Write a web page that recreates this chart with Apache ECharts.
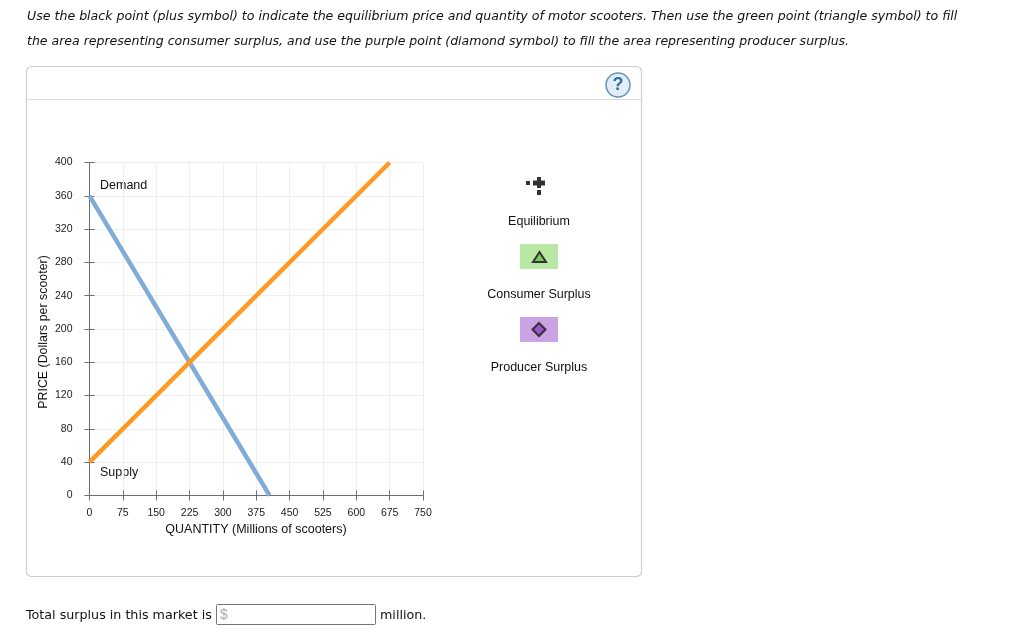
<!DOCTYPE html>
<html>
<head>
<meta charset="utf-8">
<style>
  html, body { margin: 0; padding: 0; background: #fff; }
  #chart { width: 1024px; height: 632px; }
</style>
<script src="https://cdn.jsdelivr.net/npm/echarts@6/dist/echarts.min.js"></script>
</head>
<body>
<div id="chart"></div>
<script>
// values
const quantityTicks = [0, 75, 150, 225, 300, 375, 450, 525, 600, 675, 750];
const priceTicks = [0, 40, 80, 120, 160, 200, 240, 280, 320, 360, 400];
const demandPoints = [[0, 360], [405, 0]];
const supplyPoints = [[0, 40], [675, 400]];

const instructions = [
  'Use the black point (plus symbol) to indicate the equilibrium price and quantity of motor scooters. Then use the green point (triangle symbol) to fill',
  'the area representing consumer surplus, and use the purple point (diamond symbol) to fill the area representing producer surplus.'
];

const chartFont = '"Liberation Sans", Arial, sans-serif';
const pageFont = '"DejaVu Sans", Verdana, sans-serif';
const axisGray = '#6e6e6e';

function label(x, y, text, size, extra) {
  return {
    type: 'text', x: x, y: y, silent: true,
    style: Object.assign({ text: text, fontFamily: chartFont, fontSize: size, fill: '#111', textVerticalAlign: 'middle' }, extra)
  };
}

function poly(points, fill) {
  return {
    type: 'polygon',
    shape: { points: points },
    style: { fill: fill, stroke: '#333', lineWidth: 2 }
  };
}

const chart = echarts.init(document.getElementById('chart'));

chart.setOption({
  animation: false,
  grid: { left: 89.5, top: 162.5, width: 333.5, height: 333 },
  xAxis: [
    {
      type: 'value', min: quantityTicks[0], max: quantityTicks[quantityTicks.length - 1], interval: 75,
      axisLine: { onZero: false, lineStyle: { color: axisGray, width: 1 } },
      axisTick: { show: true, length: 5, lineStyle: { color: axisGray } },
      axisLabel: { show: true, showMaxLabel: true, showMinLabel: true, margin: 12, fontSize: 10.5, fontFamily: chartFont, color: '#222' },
      splitLine: { show: true, lineStyle: { color: '#eeeeee', width: 1 } }
    },
    {
      // second axis only to carry the inner half of the ticks
      type: 'value', min: quantityTicks[0], max: quantityTicks[quantityTicks.length - 1], interval: 75, position: 'bottom',
      axisLine: { show: false },
      axisTick: { show: true, inside: true, length: 5, lineStyle: { color: axisGray } },
      axisLabel: { show: false },
      splitLine: { show: false }
    }
  ],
  yAxis: [
    {
      type: 'value', min: priceTicks[0], max: priceTicks[priceTicks.length - 1], interval: 40,
      axisLine: { show: true, onZero: false, lineStyle: { color: axisGray, width: 1 } },
      axisTick: { show: true, length: 5, lineStyle: { color: axisGray } },
      axisLabel: { show: true, showMaxLabel: true, showMinLabel: true, margin: 17, fontSize: 10.5, fontFamily: chartFont, color: '#222', padding: [4, 0, 0, 0] },
      splitLine: { show: true, lineStyle: { color: '#eeeeee', width: 1 } }
    },
    {
      type: 'value', min: priceTicks[0], max: priceTicks[priceTicks.length - 1], interval: 40, position: 'left',
      axisLine: { show: false },
      axisTick: { show: true, inside: true, length: 5, lineStyle: { color: axisGray } },
      axisLabel: { show: false },
      splitLine: { show: false }
    }
  ],
  series: [
    {
      name: 'Demand', type: 'line', data: demandPoints, showSymbol: false, silent: true,
      lineStyle: { color: '#80acd8', width: 4.5, cap: 'butt' }, clip: true, z: 3
    },
    {
      name: 'Supply', type: 'line', data: supplyPoints, showSymbol: false, silent: true,
      lineStyle: { color: '#fb9a24', width: 4.5, cap: 'butt' }, clip: true, z: 4
    }
  ],
  graphic: { elements: [
    // instructions
    { type: 'text', x: 27, y: 17, silent: true, style: { text: instructions[0], fontFamily: pageFont, fontStyle: 'italic', fontSize: 12.58, fill: '#111', textVerticalAlign: 'middle' } },
    { type: 'text', x: 27, y: 42, silent: true, style: { text: instructions[1], fontFamily: pageFont, fontStyle: 'italic', fontSize: 12.53, fill: '#111', textVerticalAlign: 'middle' } },

    // panel
    { type: 'rect', z: -10, shape: { x: 26.5, y: 66.5, width: 615, height: 510, r: 5 }, style: { fill: '#fff', stroke: '#cfcfcf', lineWidth: 1.2 } },
    { type: 'line', z: -9, shape: { x1: 27, y1: 99.5, x2: 641, y2: 99.5 }, style: { stroke: '#dcdcdc', lineWidth: 1 } },

    // help icon
    { type: 'circle', shape: { cx: 618, cy: 85, r: 12 }, style: { fill: '#e3edf6', stroke: '#5f93bb', lineWidth: 1.5 } },
    label(618, 85.5, '?', 18, { fill: '#2f6fa3', fontWeight: 'bold', textAlign: 'center' }),

    // axis titles and curve labels
    { type: 'text', x: 44, y: 332, rotation: Math.PI / 2, silent: true, style: { text: 'PRICE (Dollars per scooter)', fontFamily: chartFont, fontSize: 12.4, fill: '#111', textAlign: 'center', textVerticalAlign: 'middle' } },
    label(256, 530, 'QUANTITY (Millions of scooters)', 12.5, { textAlign: 'center' }),
    label(100, 186, 'Demand', 12.5),
    label(100, 473, 'Supply', 12.5),

    // palette
    { type: 'rect', shape: { x: 537, y: 177, width: 4, height: 11 }, style: { fill: '#333' } },
    { type: 'rect', shape: { x: 537, y: 190, width: 4, height: 5 }, style: { fill: '#333' } },
    { type: 'rect', shape: { x: 533, y: 180.5, width: 12, height: 5 }, style: { fill: '#333' } },
    { type: 'rect', shape: { x: 526, y: 181, width: 4, height: 4 }, style: { fill: '#333' } },
    label(539, 222, 'Equilibrium', 12.5, { textAlign: 'center' }),

    { type: 'rect', shape: { x: 520, y: 244, width: 38, height: 25 }, style: { fill: '#b9e8a5' } },
    poly([[539.5, 252], [546, 262], [533, 262]], '#7ccb5c'),
    label(539, 295, 'Consumer Surplus', 12.5, { textAlign: 'center' }),

    { type: 'rect', shape: { x: 520, y: 317, width: 38, height: 25 }, style: { fill: '#cba2e3' } },
    poly([[539, 323], [545.5, 329.5], [539, 336], [532.5, 329.5]], '#9a55c8'),
    label(539, 368, 'Producer Surplus', 12.5, { textAlign: 'center' }),

    // total surplus line
    { type: 'text', x: 26, y: 616, silent: true, style: { text: 'Total surplus in this market is', fontFamily: pageFont, fontSize: 12.7, fill: '#111', textVerticalAlign: 'middle' } },
    { type: 'rect', shape: { x: 216.5, y: 604.5, width: 159, height: 20, r: 1 }, style: { fill: '#fff', stroke: '#777', lineWidth: 1 } },
    label(220, 615.5, '$', 14, { fill: '#aaa' }),
    { type: 'text', x: 380, y: 616, silent: true, style: { text: 'million.', fontFamily: pageFont, fontSize: 12.7, fill: '#111', textVerticalAlign: 'middle' } }
  ] }
});
</script>
</body>
</html>
